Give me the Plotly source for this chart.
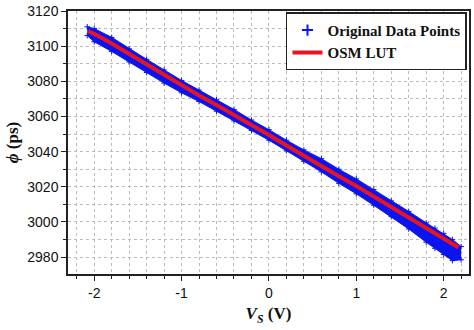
import plotly.graph_objects as go

# Band of original data points: x, upper edge, lower edge
band_x = [-2.08, -2.0, -1.8, -1.6, -1.4, -1.2, -1.0, -0.8, -0.6, -0.4, -0.2, 0.0,
          0.2, 0.4, 0.6, 0.8, 1.0, 1.2, 1.4, 1.6, 1.8, 1.9, 2.0, 2.1, 2.2]
band_upper = [3111, 3110, 3105, 3098.5, 3092.5, 3086.5, 3080.5, 3075, 3069.5, 3064, 3058, 3052.5,
              3046.5, 3041, 3036, 3030, 3024.5, 3018.5, 3012, 3006, 2999.5, 2996.5, 2993.5, 2990, 2986]
band_lower = [3106, 3102.5, 3097, 3091, 3085, 3079, 3073.5, 3068.5, 3063, 3057.5, 3052, 3046.5,
              3040.5, 3034.5, 3028.5, 3022, 3016, 3009.5, 3003, 2996, 2988.5, 2985, 2981.5, 2978, 2978.5]

# OSM LUT curve
lut_x = [-2.07, -2.0, -1.8, -1.6, -1.4, -1.2, -1.0, -0.8, -0.6, -0.4, -0.2, 0.0,
         0.2, 0.4, 0.6, 0.8, 1.0, 1.2, 1.4, 1.6, 1.8, 2.0, 2.17]
lut_y = [3108.5, 3107, 3101.5, 3095.5, 3089.5, 3083.5, 3077.5, 3072, 3066.5, 3061, 3055, 3049.5,
         3043.5, 3037.5, 3032, 3026, 3020.5, 3014.5, 3008.5, 3002.5, 2996.5, 2990.5, 2985.5]

x_ticks = [-2, -1, 0, 1, 2]
y_ticks = [2980, 3000, 3020, 3040, 3060, 3080, 3100, 3120]

BLUE = "#0a14f0"
RED = "#e8141e"

fig = go.Figure()
fig.add_trace(go.Scatter(x=band_x, y=band_lower, mode="lines+markers",
                         line=dict(color=BLUE, width=1),
                         marker=dict(symbol="cross-thin", size=4, line=dict(color=BLUE, width=1)),
                         showlegend=False, hoverinfo="skip"))
fig.add_trace(go.Scatter(x=band_x, y=band_upper, mode="lines+markers", fill="tonexty",
                         fillcolor=BLUE, line=dict(color=BLUE, width=1),
                         marker=dict(symbol="cross-thin", size=4, line=dict(color=BLUE, width=1)),
                         showlegend=False, hoverinfo="skip"))
fig.add_trace(go.Scatter(x=[None], y=[None], mode="markers", name="<b>Original Data Points</b>",
                         marker=dict(symbol="cross-thin", size=8, line=dict(color=BLUE, width=2))))
fig.add_trace(go.Scatter(x=lut_x, y=lut_y, mode="lines", name="<b>OSM LUT</b>",
                         line=dict(color=RED, width=4)))

axis_common = dict(
    showline=True, linecolor="#222", linewidth=1.5, mirror=True,
    ticks="outside", ticklen=5, tickwidth=1.2, tickcolor="#222",
    showgrid=True, gridcolor="#bbbbbb", griddash="dot", gridwidth=1,
    zeroline=False,
    tickfont=dict(family="Liberation Sans, Arial", size=14, color="#111"),
)

fig.update_xaxes(range=[-2.3, 2.29], tickvals=x_ticks, ticktext=[str(v) for v in x_ticks],
                 minor=dict(dtick=0.2, tick0=0, ticks="outside", ticklen=3, tickcolor="#222",
                            showgrid=True, gridcolor="#bbbbbb", griddash="dot"),
                 title=dict(text="<b><i>V<sub>S</sub></i> (V)</b>",
                            font=dict(family="Liberation Serif, Times New Roman", size=17, color="#111"),
                            standoff=8),
                 **axis_common)
fig.update_yaxes(range=[2970.4, 3120], tickvals=y_ticks, ticktext=[str(v) for v in y_ticks],
                 minor=dict(dtick=10, tick0=2980, ticks="outside", ticklen=3, tickcolor="#222",
                            showgrid=True, gridcolor="#bbbbbb", griddash="dot"),
                 title=dict(text="<b><i>ϕ</i> (ps)</b>",
                            font=dict(family="Liberation Serif, Times New Roman", size=17, color="#111"),
                            standoff=4),
                 **axis_common)

fig.update_layout(
    width=474, height=330,
    margin=dict(l=68, r=3, t=9, b=56),
    plot_bgcolor="white", paper_bgcolor="white",
    legend=dict(x=0.995, y=0.995, xanchor="right", yanchor="top", traceorder="normal",
                bgcolor="white", bordercolor="#222", borderwidth=1.5,
                font=dict(family="Liberation Serif, Times New Roman", size=15, color="#111"),
                tracegroupgap=0, itemwidth=30),
)

fig.write_html("out.html")
